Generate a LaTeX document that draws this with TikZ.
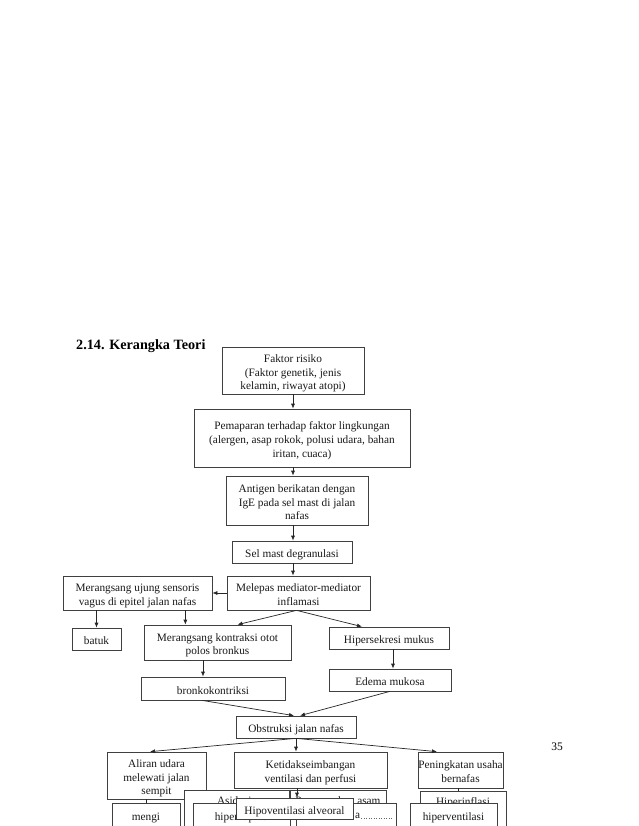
\documentclass[tikz,border=0pt]{standalone}
\usepackage{fontspec}
\setmainfont{Liberation Serif}
\usetikzlibrary{arrows.meta,calc}
\newcommand{\bxfont}{\fontsize{11.3}{13.8}\selectfont}
\newcommand{\tx}[1]{\raisebox{-2.8pt}[\height][\depth]{\begin{tabular}{@{}c@{}}#1\end{tabular}}}
\newcommand{\txb}[1]{\raisebox{-5pt}[\height][\depth]{\begin{tabular}{@{}c@{}}#1\end{tabular}}}
\tikzset{
  bx/.style={draw=black!75, fill=white, line width=0.7pt, inner sep=0pt, font=\bxfont, text=black!90},
  bt/.style={anchor=north, inner sep=0pt, font=\bxfont, text=black!90},
  arr/.style={draw=black!85, line width=0.7pt, -{Latex[length=5pt,width=4pt]}},
  ln/.style={draw=black!85, line width=0.7pt}
}
\begin{document}
\begin{tikzpicture}[x=1pt,y=-1pt]
\clip (0,0) rectangle (638,826);
\fill[white] (0,0) rectangle (638,826);
% title and page number
\node[anchor=west, font=\fontsize{14.2}{16}\selectfont\bfseries, inner sep=0pt] (title) at (76,346) {2.14. Kerangka Teori};
\node[font=\fontsize{11.5}{13}\selectfont, inner sep=0pt] (pg) at (557,747) {35};
% boxes
\node[bx, minimum width=142, minimum height=47] (b1) at (293,370.5) {\tx{Faktor risiko\\(Faktor genetik, jenis\\kelamin, riwayat atopi)}};
\node[bx, minimum width=216, minimum height=58] (b2) at (302,438) {\tx{Pemaparan terhadap faktor lingkungan\\(alergen, asap rokok, polusi udara, bahan\\iritan, cuaca)}};
\node[bx, minimum width=142, minimum height=49] (b3) at (297,500.5) {\tx{Antigen berikatan dengan\\IgE pada sel mast di jalan\\nafas}};
\node[bx, minimum width=120, minimum height=22] (b4) at (292,552) {\tx{Sel mast degranulasi}};
\node[bx, minimum width=143, minimum height=34] (b5) at (298.5,593) {\tx{Melepas mediator-mediator\\inflamasi}};
\node[bx, minimum width=149, minimum height=34] (b6) at (137.5,593) {\tx{Merangsang ujung sensoris\\vagus di epitel jalan nafas}};
\node[bx, minimum width=49, minimum height=22] (batuk) at (96.5,639) {\tx{batuk}};
\node[bx, minimum width=147, minimum height=35] (b7) at (217.5,642.5) {\tx{Merangsang kontraksi otot\\polos bronkus}};
\node[bx, minimum width=120, minimum height=22] (b8) at (389,638) {\tx{Hipersekresi mukus}};
\node[bx, minimum width=122, minimum height=22] (b9) at (390,680) {\tx{Edema mukosa}};
\node[bx, minimum width=144, minimum height=23] (b10) at (213,688.5) {\tx{bronkokontriksi}};
\node[bx, minimum width=120, minimum height=22] (b11) at (296,727) {\tx{Obstruksi jalan nafas}};
\node[bx, minimum width=99, minimum height=47] (b12) at (156.5,775.5) {\tx{Aliran udara\\melewati jalan\\sempit}};
\node[bx, minimum width=153, minimum height=36] (b13) at (310.5,770) {\tx{Ketidakseimbangan\\ventilasi dan perfusi}};
\node[bx, minimum width=85, minimum height=36] (b14) at (460.5,770) {\tx{Peningkatan usaha\\bernafas}};
% bottom row, back
\node[bx, anchor=north, minimum width=105, minimum height=40] (asid) at (236.5,790) {};
\node[bt] (asidt) at (asid.north) {\txb{Asidosis\\respiratorik}};
\node[bx, anchor=north, minimum width=96, minimum height=40] (penum) at (338,790) {};
\node[bt] (penumt) at (penum.north) {\txb{Penumpukan asam\\laktat}};
\node[bx, anchor=north, minimum width=86, minimum height=40] (hinf) at (463,791) {};
\node[bt] (hinft) at (hinf.north) {\txb{Hiperinflasi\\paru}};
% bottom row, front
\node[bx, anchor=north, minimum width=68, minimum height=23] (mengi) at (146,803) {\tx{mengi}};
\node[bx, anchor=north, minimum width=97, minimum height=23] (hkap) at (241.5,803) {\tx{hiperkapnia}};
\node[bx, anchor=north, minimum width=100, minimum height=23] (p2) at (346,803) {};
\node[bx, anchor=north, minimum width=87, minimum height=23] (hven) at (453.5,803) {\tx{hiperventilasi}};
\node[bx, minimum width=117, minimum height=21] (hipo) at (294.5,808.5) {\tx{Hipoventilasi alveoral}};
\node[anchor=west, inner sep=0pt, font=\bxfont, text=black!90] (p2t) at (355,816) {a};
\draw[black!60, dotted, line width=0.5pt] ([xshift=1pt]p2t.base east) -- ([xshift=-4pt]p2t.base east -| p2.east);
% connectors
\draw[arr] (b1.south) -- (b1.south |- b2.north);
\draw[arr] (b1.south |- b2.south) -- (b1.south |- b3.north);
\draw[arr] (b1.south |- b3.south) -- (b1.south |- b4.north);
\draw[arr] (b1.south |- b4.south) -- (b1.south |- b5.north);
\draw[arr] (b5.west) -- (b6.east);
\draw[arr] (batuk.north |- b6.south) -- (batuk.north);
\draw[arr] ([xshift=-27pt]b6.south east) -- ([xshift=-27pt]b6.south east |- b7.north);
\draw[arr] ([xshift=-2pt]b5.south) -- ([xshift=20pt]b7.north);
\draw[arr] ([xshift=-2pt]b5.south) -- ([xshift=-27pt]b8.north);
\draw[arr] ([xshift=4pt]b8.south) -- ([xshift=4pt]b8.south |- b9.north);
\draw[arr] ([xshift=-14.5pt]b7.south) -- ([xshift=-14.5pt]b7.south |- b10.north);
\draw[arr] ([xshift=-11pt]b10.south) -- ([xshift=-2pt]b11.north);
\draw[arr] (b9.south) -- ([xshift=4pt]b11.north);
\draw[arr] (b11.south) -- ([xshift=-6.5pt]b12.north);
\draw[arr] (b11.south) -- (b11.south |- b13.north);
\draw[arr] (b11.south) -- ([xshift=-23.5pt]b14.north);
\draw[arr] ([xshift=1pt]b11.south |- b13.south) -- ([xshift=1pt]b11.south |- hipo.north);
\draw[ln] ([xshift=-10.5pt]b12.south) -- ([xshift=-10.5pt]b12.south |- mengi.north);
\draw[ln] ([xshift=-2.5pt]b14.south) -- ([xshift=-2.5pt]b14.south |- hinf.north);
\end{tikzpicture}
\end{document}
